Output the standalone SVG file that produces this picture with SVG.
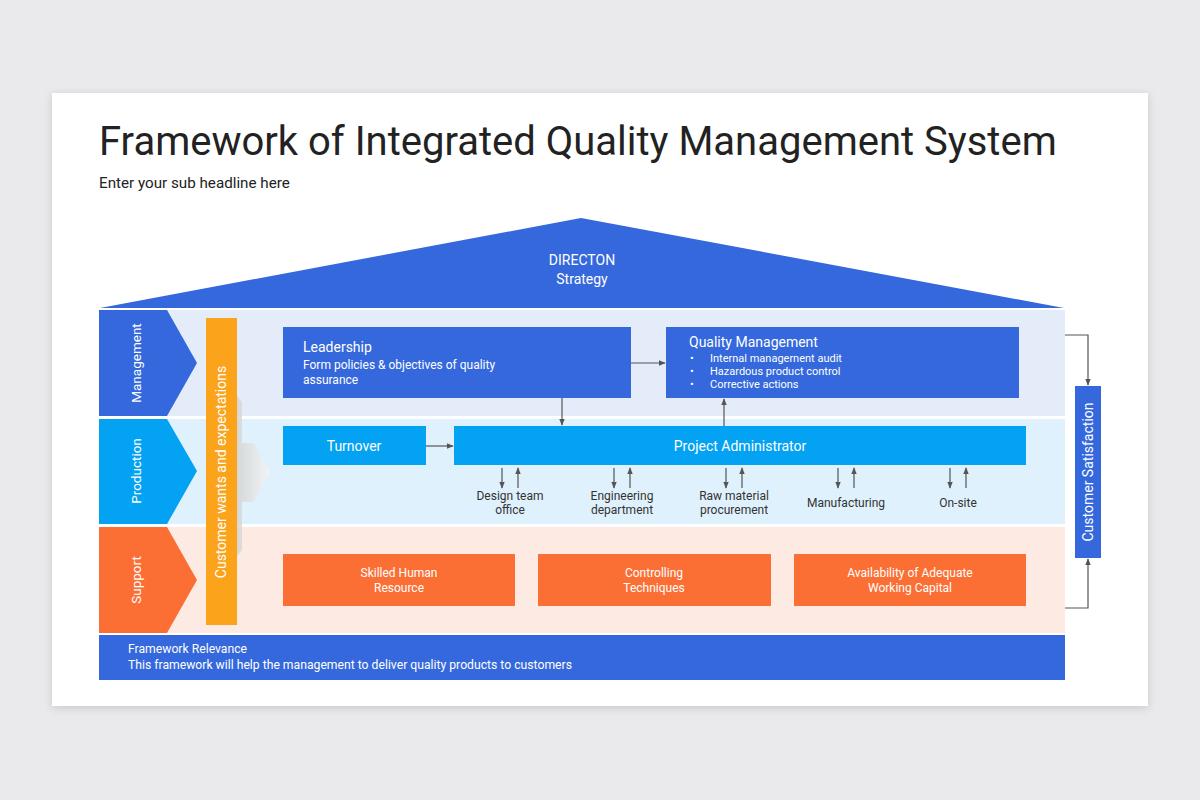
<svg xmlns="http://www.w3.org/2000/svg" width="1200" height="800" viewBox="0 0 1200 800">
<defs>
<style>
text{font-family:Roboto,"Liberation Sans",sans-serif}
.w{fill:#fff}
.blue{fill:#3468DC}
.cyan{fill:#03A2F3}
.org{fill:#FB6F35}
.ln{stroke:#555;stroke-width:1.2;fill:none}
</style>
<marker id="ah" viewBox="0 0 10 10" refX="9" refY="5" markerWidth="6" markerHeight="6" orient="auto"><path d="M0,1 L10,5 L0,9 z" fill="#555"/></marker>
<linearGradient id="ga" x1="0" y1="0" x2="1" y2="0"><stop offset="0" stop-color="#d4d4d4"/><stop offset="1" stop-color="#f4f4f4"/></linearGradient>
<filter id="sh" x="-5%" y="-5%" width="110%" height="115%"><feDropShadow dx="0" dy="2" stdDeviation="4" flood-color="#000" flood-opacity="0.15"/></filter>
</defs>
<rect width="1200" height="800" fill="#EAE9EB"/>
<rect x="52" y="93" width="1096" height="613" fill="#fff" filter="url(#sh)"/>
<text x="99" y="155" font-size="40" fill="#222">Framework of Integrated Quality Management System</text>
<text x="99" y="188" font-size="15.2" fill="#222">Enter your sub headline here</text>

<g id="roof">
<polygon points="581,218 1064,308 100,308" class="blue"/>
<text x="582" y="265" font-size="14" class="w" text-anchor="middle">DIRECTON</text>
<text x="582" y="284" font-size="14" class="w" text-anchor="middle">Strategy</text>
</g>

<g id="bands">
<rect x="99" y="310" width="966" height="106" fill="#E4ECF9"/>
<rect x="99" y="419" width="966" height="105" fill="#DFF1FC"/>
<rect x="99" y="527" width="966" height="106" fill="#FDEBE3"/>
</g>

<g id="management">
<polygon points="99,310 167,310 197,363 167,416 99,416" class="blue"/>
<text transform="translate(141,363) rotate(-90)" font-size="13.5" class="w" text-anchor="middle">Management</text>
</g>
<g id="production">
<polygon points="99,419 167,419 197,471 167,524 99,524" class="cyan"/>
<text transform="translate(141,471) rotate(-90)" font-size="13.5" class="w" text-anchor="middle">Production</text>
</g>
<g id="support">
<polygon points="99,527 167,527 197,580 167,633 99,633" class="org"/>
<text transform="translate(141,580) rotate(-90)" font-size="13.5" class="w" text-anchor="middle">Support</text>
</g>

<g id="wants">
<polygon points="237,396 242,402 242,443 254,443 270,472 254,502 242,502 242,550 237,556" fill="url(#ga)" opacity="0.85"/>
<rect x="206" y="318" width="31" height="307" fill="#FBA31B"/>
<text transform="translate(226,472) rotate(-90)" font-size="14" class="w" text-anchor="middle">Customer wants and expectations</text>
</g>

<g id="leadership">
<rect x="283" y="327" width="348" height="71" class="blue"/>
<text x="303" y="352" font-size="14" class="w">Leadership</text>
<text x="303" y="369" font-size="12" class="w">Form policies &amp; objectives of quality</text>
<text x="303" y="384" font-size="12" class="w">assurance</text>
</g>

<g id="quality">
<rect x="666" y="327" width="353" height="71" class="blue"/>
<text x="689" y="347" font-size="14" class="w">Quality Management</text>
<g font-size="11" class="w">
<text x="690" y="362">•</text><text x="710" y="362">Internal managernent audit</text>
<text x="690" y="375">•</text><text x="710" y="375">Hazardous product control</text>
<text x="690" y="388">•</text><text x="710" y="388">Corrective actions</text>
</g>
</g>

<g id="turnover">
<rect x="283" y="426" width="143" height="39" class="cyan"/>
<text x="354" y="451" font-size="14" class="w" text-anchor="middle">Turnover</text>
</g>

<g id="admin">
<rect x="454" y="426" width="572" height="39" class="cyan"/>
<text x="740" y="451" font-size="14" class="w" text-anchor="middle">Project Administrator</text>
</g>

<g id="labels" font-size="12" fill="#333" text-anchor="middle">
<text x="510" y="500">Design team</text><text x="510" y="514">office</text>
<text x="622" y="500">Engineering</text><text x="622" y="514">department</text>
<text x="734" y="500">Raw material</text><text x="734" y="514">procurement</text>
<text x="846" y="507">Manufacturing</text>
<text x="958" y="507">On-site</text>
</g>

<g id="skilled">
<rect x="283" y="554" width="232" height="52" class="org"/>
<text x="399" y="577" font-size="12" class="w" text-anchor="middle">Skilled Human</text>
<text x="399" y="592" font-size="12" class="w" text-anchor="middle">Resource</text>
</g>
<g id="controlling">
<rect x="538" y="554" width="233" height="52" class="org"/>
<text x="654" y="577" font-size="12" class="w" text-anchor="middle">Controlling</text>
<text x="654" y="592" font-size="12" class="w" text-anchor="middle">Techniques</text>
</g>
<g id="capital">
<rect x="794" y="554" width="232" height="52" class="org"/>
<text x="910" y="577" font-size="12" class="w" text-anchor="middle">Availability of Adequate</text>
<text x="910" y="592" font-size="12" class="w" text-anchor="middle">Working Capital</text>
</g>

<g id="satisfaction">
<rect x="1075" y="386" width="26" height="172" class="blue"/>
<text transform="translate(1093,472) rotate(-90)" font-size="14" class="w" text-anchor="middle">Customer Satisfaction</text>
</g>

<g id="footer">
<rect x="99" y="635" width="966" height="45" class="blue"/>
<text x="128" y="653" font-size="12.2" class="w">Framework Relevance</text>
<text x="128" y="669" font-size="12.2" class="w">This framework will help the management to deliver quality products to customers</text>
</g>

<g id="connectors" class="ln">
<path d="M631,363 H665" marker-end="url(#ah)"/>
<path d="M562,398 V425" marker-end="url(#ah)"/>
<path d="M724,426 V399" marker-end="url(#ah)"/>
<path d="M426,446 H453" marker-end="url(#ah)"/>
<path d="M1065,335 H1088 V385" marker-end="url(#ah)"/>
<path d="M1065,608 H1088 V559" marker-end="url(#ah)"/>
<path d="M502,468 V488" marker-end="url(#ah)"/><path d="M518,488 V468" marker-end="url(#ah)"/>
<path d="M614,468 V488" marker-end="url(#ah)"/><path d="M630,488 V468" marker-end="url(#ah)"/>
<path d="M726,468 V488" marker-end="url(#ah)"/><path d="M742,488 V468" marker-end="url(#ah)"/>
<path d="M838,468 V488" marker-end="url(#ah)"/><path d="M854,488 V468" marker-end="url(#ah)"/>
<path d="M950,468 V488" marker-end="url(#ah)"/><path d="M966,488 V468" marker-end="url(#ah)"/>
</g>
</svg>
